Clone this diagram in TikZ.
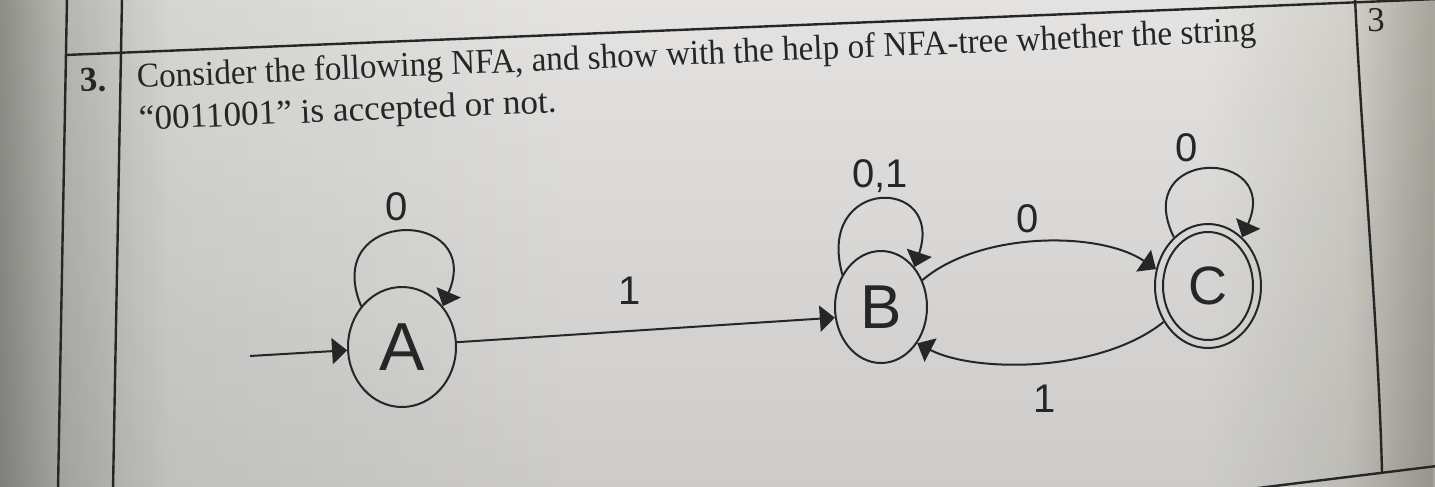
\documentclass[tikz,border=0pt]{standalone}
\usepackage{graphicx}
\usepackage{fontspec}
\setmainfont{Liberation Serif}
\newfontfamily\arialf{Liberation Sans}
\usetikzlibrary{arrows.meta,shapes.geometric,fadings}
\definecolor{pL}{HTML}{8E8E89}
\definecolor{pLb}{HTML}{B4B4AF}
\definecolor{pM}{HTML}{D6D6D3}
\definecolor{pC}{HTML}{E4E3E1}
\definecolor{pRb}{HTML}{D2D0C9}
\definecolor{pR}{HTML}{A6A49B}
\definecolor{ink}{HTML}{262626}
\pgfdeclarehorizontalshading{paper}{100bp}{color(0bp)=(pL); color(25bp)=(pL); color(27bp)=(pLb); color(31bp)=(pM); color(45bp)=(pC); color(67bp)=(pC); color(72bp)=(pRb); color(75bp)=(pR); color(100bp)=(pR)}
\newcommand\fitto[2]{\setbox0=\hbox{#2}\pgfmathsetmacro\fitr{#1/\the\wd0}\scalebox{\fitr}[1]{\box0}}
\begin{document}
\begin{tikzpicture}[x=0.5pt,y=-0.5pt,
  state/.style={ellipse, draw=ink, line width=1pt, inner sep=0pt, text=ink},
  lbl/.style={font=\arialf\fontsize{20}{20}\selectfont, text=ink, inner sep=0pt},
  edge/.style={draw=ink, line width=1pt, -{Triangle[length=7.5pt,width=13pt]}},
  rule/.style={draw=ink, line width=1.2pt},
  body/.style={font=\fontsize{17.4}{20}\selectfont, text=ink, inner sep=0pt, anchor=base west, rotate=2.4}]
\useasboundingbox (0,0) rectangle (1435,487);
\clip (0,0) rectangle (1435,487);
\shade[shading=paper] (0,0) rectangle (1435,487);
\fill[black, opacity=0.1, path fading=north] (0,0) rectangle (1435,487);
% table rules
\draw[rule] (65,55) -- (1437,-1);
\draw[rule] (67,-2) -- (58,490);
\draw[rule] (122,-2) -- (113,490);
\draw[rule] (1355,-2) .. controls (1362,150) and (1378,320) .. (1382,472);
\draw[rule] (1250,489) -- (1437,466);
% texts
\node[body, font=\bfseries\fontsize{17.4}{20}\selectfont] (qn) at (80,92) {3.};
\node[body] (l1) at (137,88) {\fitto{560}{Consider the following NFA, and show with the help of NFA-tree whether the string}};
\node[body] (l2) at (139,130) {\fitto{209}{“0011001” is accepted or not.}};
\node[body, anchor=center, rotate=-2.4] (mk) at (1376,20) {3};
% states
\node[state, minimum width=54pt, minimum height=60pt, font=\arialf\fontsize{34}{34}\selectfont] (A) at (402,347) {A};
\node[state, minimum width=46pt, minimum height=56pt, font=\arialf\fontsize{31}{31}\selectfont] (B) at (881,307) {B};
\node[state, minimum width=53pt, minimum height=62pt, font=\arialf\fontsize{27}{27}\selectfont] (C) at (1208,286) {C};
\node[state, minimum width=45pt, minimum height=54pt] (Cin) at (C.center) {};
% edges
\coordinate (s) at (250,356);
\draw[edge] (s) -- (A);
\draw[edge] (A.135) .. controls (320,207) and (485,207) .. (A.45);
\draw[edge] (A.5) -- (B.193);
\draw[edge] (B.140) .. controls (815,176) and (945,176) .. (B.50);
\draw[edge] (B.33) .. controls (980,231) and (1100,231) .. (C.162);
\draw[edge] (C.219) .. controls (1100,373) and (975,373) .. (B.-45);
\draw[edge] (C.125) .. controls (1130,147) and (1282,147) .. (C.55);
% labels
\node[lbl] (la) at (397,207) {0};
\node[lbl] (lab) at (630,291) {1};
\node[lbl] (lb) at (880,176) {0,1};
\node[lbl] (lbc) at (1028,219) {0};
\node[lbl] (lcb) at (1045,399) {1};
\node[lbl] (lc) at (1187,148) {0};
\end{tikzpicture}
\end{document}
